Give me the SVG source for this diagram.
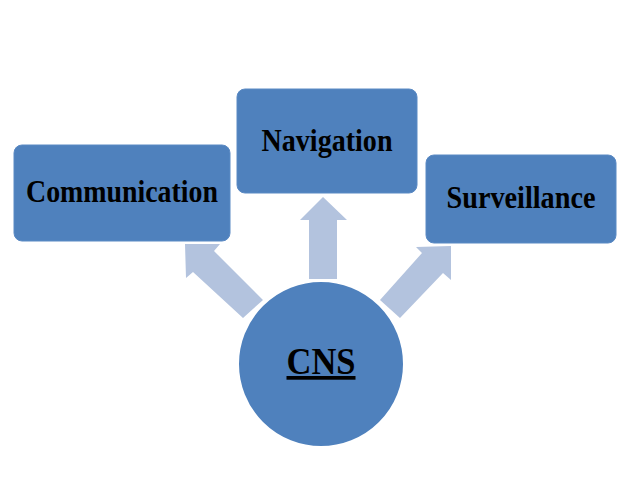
<svg xmlns="http://www.w3.org/2000/svg" width="638" height="478" viewBox="0 0 638 478">
<style>
.box{fill:#4F81BD;stroke:#5B8AC4;stroke-width:1}
.lbl{font-family:"Liberation Serif","Times New Roman",serif;font-weight:bold;font-size:31px;fill:#000;text-anchor:middle}
.arr{fill:#B3C3DE}
</style>
<rect width="638" height="478" fill="#fff"/>
<g id="connectors">
<polygon class="arr" points="185,244 220,244 214,251 263,300 243,318 193,272 186,278"/>
<polygon class="arr" points="323,197 347,220 337,220 337,279 309,279 309,220 300,220"/>
<polygon class="arr" points="451,246 416,247 422,253 380,300 400,318 443,273 451,280"/>
</g>
<g id="communication">
<rect class="box" x="14" y="145" width="216" height="96" rx="8"/>
<text class="lbl" x="122" y="202" textLength="192" lengthAdjust="spacingAndGlyphs">Communication</text>
</g>
<g id="navigation">
<rect class="box" x="237" y="89" width="180" height="104" rx="8"/>
<text class="lbl" x="327" y="151" textLength="131" lengthAdjust="spacingAndGlyphs">Navigation</text>
</g>
<g id="surveillance">
<rect class="box" x="426" y="155" width="190" height="88" rx="8"/>
<text class="lbl" x="521" y="208" textLength="149" lengthAdjust="spacingAndGlyphs">Surveillance</text>
</g>
<g id="cns">
<circle cx="321" cy="364" r="83" fill="#4F81BD" stroke="#fff" stroke-width="2"/>
<text class="lbl" x="321" y="374" textLength="69" lengthAdjust="spacingAndGlyphs" text-decoration="underline" style="font-size:37px">CNS</text>
</g>
</svg>
